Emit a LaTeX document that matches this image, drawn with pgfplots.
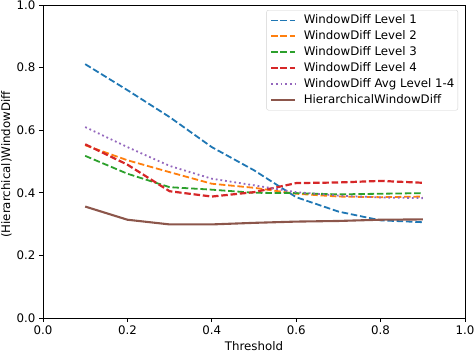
\documentclass[border=0pt]{standalone}
\usepackage{fontspec}
\setmainfont{DejaVu Sans}
\usepackage{pgfplots}
\pgfplotsset{compat=1.18}
\definecolor{cblue}{HTML}{1F77B4}
\definecolor{corange}{HTML}{FF7F0E}
\definecolor{cgreen}{HTML}{2CA02C}
\definecolor{cred}{HTML}{D62728}
\definecolor{cpurple}{HTML}{9467BD}
\definecolor{cbrown}{HTML}{8C564B}
\newcommand{\ff}{\fontsize{11.8}{14}\selectfont}
\begin{document}
\begin{tikzpicture}
\path[use as bounding box] (-43pt,-33pt) rectangle (431pt,318pt);
\begin{axis}[
  at={(0,0)}, anchor=south west,
  scale only axis, width=422pt, height=313pt,
  xmin=0, xmax=1, ymin=0, ymax=1,
  xtick={0,0.2,0.4,0.6,0.8,1}, ytick={0,0.2,0.4,0.6,0.8,1},
  /pgf/number format/.cd, fixed, fixed zerofill, precision=1, assume math mode=true,
  /pgfplots/.cd,
  tick align=outside, tick pos=left, major tick length=4.1pt,
  axis line style={line width=0.9pt},
  every tick/.style={black, line width=0.9pt},
  tick label style={font=\ff},
  label style={font=\ff},
  xlabel={Threshold},
  ylabel={(Hierarchical)WindowDiff},
  xlabel style={at={(axis description cs:0.5,0)}, anchor=north, inner sep=0pt, yshift=-23.7pt},
  ylabel style={at={(axis description cs:-0.0995,0.49)}, anchor=north, inner sep=0pt},
  legend cell align=left,
  legend image code/.code={\draw[#1] (0pt,0pt) -- (24pt,0pt);},
  legend style={at={(axis description cs:0.9835,0.984)}, anchor=north east,
    draw=black!18, rounded corners=2pt, fill=white, font=\ff,
    row sep=4.4pt, column sep=7.5pt, inner xsep=3.5pt, inner ysep=4.5pt,
    nodes={inner sep=0pt, text height=9pt, text depth=2.5pt}},
]
\addplot[cblue, line width=1.8pt, dash pattern=on 6.5pt off 2.8pt] coordinates {
(0.1,0.811) (0.2,0.728) (0.3,0.642) (0.4,0.546) (0.5,0.472) (0.6,0.386) (0.7,0.340) (0.8,0.312) (0.9,0.306)};
\addlegendentry{WindowDiff Level 1}
\addplot[corange, line width=1.8pt, dash pattern=on 6.5pt off 2.8pt] coordinates {
(0.1,0.552) (0.2,0.504) (0.3,0.466) (0.4,0.429) (0.5,0.416) (0.6,0.397) (0.7,0.388) (0.8,0.386) (0.9,0.388)};
\addlegendentry{WindowDiff Level 2}
\addplot[cgreen, line width=1.8pt, dash pattern=on 6.5pt off 2.8pt] coordinates {
(0.1,0.518) (0.2,0.461) (0.3,0.418) (0.4,0.410) (0.5,0.400) (0.6,0.399) (0.7,0.395) (0.8,0.397) (0.9,0.399)};
\addlegendentry{WindowDiff Level 3}
\addplot[cred, line width=2.2pt, dash pattern=on 6.5pt off 2.8pt] coordinates {
(0.1,0.555) (0.2,0.490) (0.3,0.405) (0.4,0.388) (0.5,0.402) (0.6,0.431) (0.7,0.433) (0.8,0.438) (0.9,0.432)};
\addlegendentry{WindowDiff Level 4}
\addplot[cpurple, line width=1.8pt, dash pattern=on 1.8pt off 2.9pt] coordinates {
(0.1,0.610) (0.2,0.546) (0.3,0.486) (0.4,0.445) (0.5,0.424) (0.6,0.402) (0.7,0.391) (0.8,0.385) (0.9,0.383)};
\addlegendentry{WindowDiff Avg Level 1-4}
\addplot[cbrown, line width=2.1pt] coordinates {
(0.1,0.356) (0.2,0.314) (0.3,0.299) (0.4,0.299) (0.5,0.304) (0.6,0.308) (0.7,0.310) (0.8,0.314) (0.9,0.315)};
\addlegendentry{HierarchicalWindowDiff}
\end{axis}
\end{tikzpicture}
\end{document}
